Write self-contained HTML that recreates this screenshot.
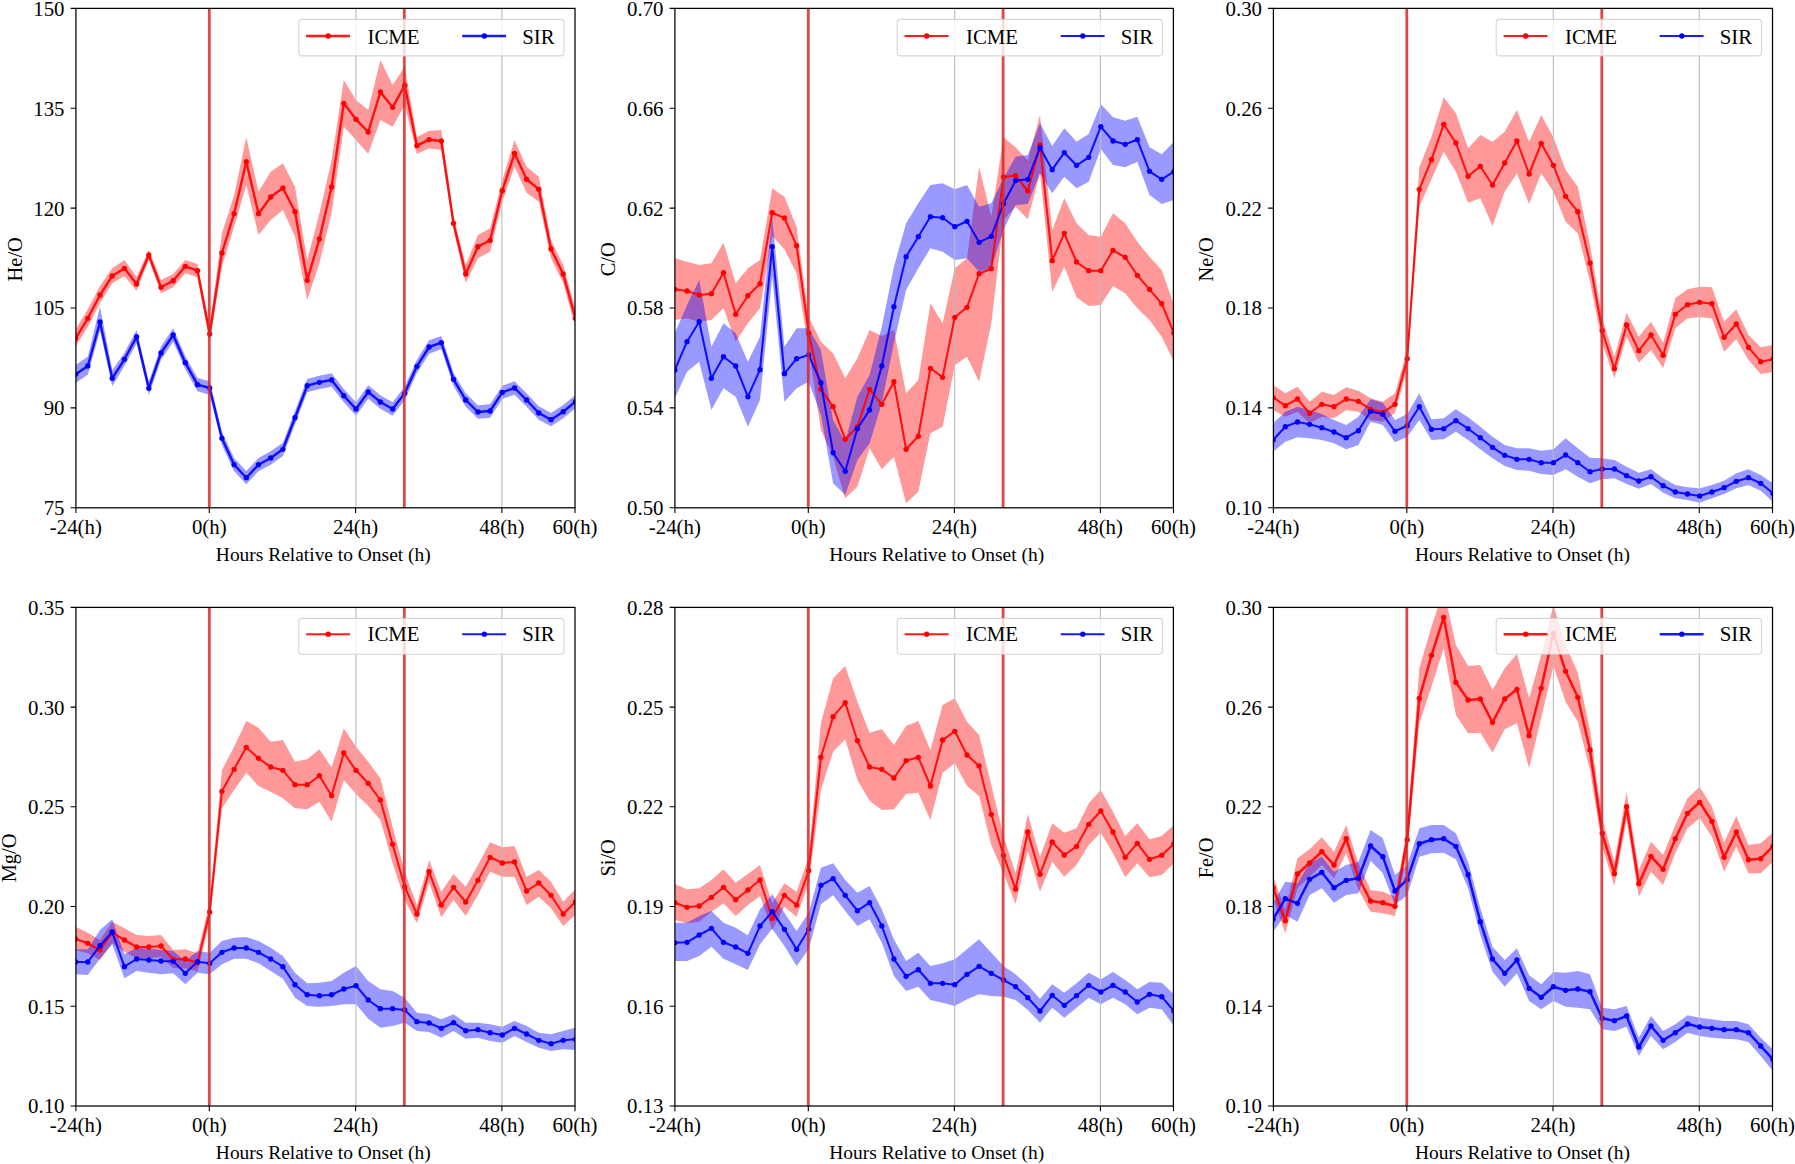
<!DOCTYPE html>
<html><head><meta charset="utf-8"><title>Abundance ratios</title>
<style>html,body{margin:0;padding:0;background:#fff}svg{display:block}text{font-family:"Liberation Serif","Times New Roman",serif;font-size:19.44px;fill:#000}.t{font-size:20.83px}.y{font-size:20.4px}</style></head>
<body>
<svg width="1795" height="1164" viewBox="0 0 1795 1164">
<rect width="1795" height="1164" fill="#fff"/>
<g>
<clipPath id="c1"><rect x="75.9" y="8.4" width="499.1" height="499.4"/></clipPath>
<g clip-path="url(#c1)">
<polygon fill="#ff0000" fill-opacity="0.4" points="75.6,329.3 87.8,309.3 100,286 112.2,268.3 124.4,260 136.6,276.7 148.8,250 161,280 173.2,274 185.3,260 197.5,264 209.7,326.7 221.9,233.3 234.1,195 246.3,137.3 258.5,191.7 270.7,171.7 282.9,163.3 295,186.7 307.2,260 319.4,213.3 331.6,160 343.8,80 356,100 368.2,110 380.4,60 392.6,85 404.7,66.7 416.9,137.3 429.1,130.7 441.3,130 453.5,216.7 465.7,265 477.9,235 490.1,228.3 502.3,180 514.5,140 526.6,166.7 538.8,176.7 551,240 563.2,265 575.4,308.3 575.4,326.7 563.2,283.3 551,258.3 538.8,201.7 526.6,192.7 514.5,166.7 502.3,201.7 490.1,251.7 477.9,258.3 465.7,282.7 453.5,230 441.3,150 429.1,148.3 416.9,154 404.7,105 392.6,126.7 380.4,120 368.2,154 356,140 343.8,126.7 331.6,213.3 319.4,263.3 307.2,300 295,236.7 282.9,210 270.7,220 258.5,235 246.3,185 234.1,226.7 221.9,266.7 209.7,341.7 197.5,277.3 185.3,273.3 173.2,287.3 161,293.3 148.8,260 136.6,290.7 124.4,276 112.2,283.3 100,303.3 87.8,326.7 75.6,346.7"/>
<polygon fill="#0000ff" fill-opacity="0.4" points="75.6,365 87.8,356.7 100,306.7 112.2,370.3 124.4,352.7 136.6,330 148.8,381.7 161,346.3 173.2,328.3 185.3,356 197.5,378 209.7,381.3 221.9,431.7 234.1,458 246.3,471 258.5,458 270.7,451.3 282.9,442.7 295,411 307.2,379 319.4,375.7 331.6,373.3 343.8,389 356,402.3 368.2,385.3 380.4,395.3 392.6,402.3 404.7,386.7 416.9,359.7 429.1,340.3 441.3,336 453.5,372.7 465.7,393.3 477.9,405.3 490.1,404.3 502.3,385.7 514.5,381.3 526.6,393.3 538.8,406.3 551,413 563.2,405 575.4,395 575.4,408.3 563.2,418.3 551,426.3 538.8,419.7 526.6,406.7 514.5,394.7 502.3,399 490.1,417.7 477.9,418.7 465.7,406.7 453.5,386 441.3,349.3 429.1,353.7 416.9,373 404.7,400 392.6,415.7 380.4,408.7 368.2,398.7 356,415.7 343.8,402.3 331.6,386.7 319.4,389 307.2,392.3 295,424.3 282.9,456 270.7,464.7 258.5,471.3 246.3,484.3 234.1,471.3 221.9,445 209.7,394.7 197.5,391.3 185.3,369.3 173.2,341.7 161,359.7 148.8,395 136.6,343.3 124.4,366 112.2,386.3 100,330.7 87.8,374.7 75.6,383"/>
<line x1="355.9" x2="355.9" y1="8.4" y2="507.8" stroke="#bbbbbb" stroke-width="1.1"/>
<line x1="501.9" x2="501.9" y1="8.4" y2="507.8" stroke="#bbbbbb" stroke-width="1.1"/>
<polyline fill="none" stroke="#ff0000" stroke-opacity="0.9" stroke-width="2.4" stroke-linejoin="round" points="75.6,338.3 87.8,318.3 100,295 112.2,276 124.4,268.3 136.6,284 148.8,255 161,287.3 173.2,280.7 185.3,266.3 197.5,270.7 209.7,334 221.9,253 234.1,213.7 246.3,161.7 258.5,213.7 270.7,197 282.9,188 295,211.7 307.2,280.3 319.4,239 331.6,187 343.8,103.3 356,119.3 368.2,132 380.4,92 392.6,107.3 404.7,85.3 416.9,145.7 429.1,139.7 441.3,141 453.5,223.3 465.7,274 477.9,246.7 490.1,240.3 502.3,190.7 514.5,153.3 526.6,179.3 538.8,189.3 551,249 563.2,274 575.4,318.3"/>
<g fill="#ff0000"><circle cx="75.6" cy="338.3" r="2.65"/><circle cx="87.8" cy="318.3" r="2.65"/><circle cx="100" cy="295" r="2.65"/><circle cx="112.2" cy="276" r="2.65"/><circle cx="124.4" cy="268.3" r="2.65"/><circle cx="136.6" cy="284" r="2.65"/><circle cx="148.8" cy="255" r="2.65"/><circle cx="161" cy="287.3" r="2.65"/><circle cx="173.2" cy="280.7" r="2.65"/><circle cx="185.3" cy="266.3" r="2.65"/><circle cx="197.5" cy="270.7" r="2.65"/><circle cx="209.7" cy="334" r="2.65"/><circle cx="221.9" cy="253" r="2.65"/><circle cx="234.1" cy="213.7" r="2.65"/><circle cx="246.3" cy="161.7" r="2.65"/><circle cx="258.5" cy="213.7" r="2.65"/><circle cx="270.7" cy="197" r="2.65"/><circle cx="282.9" cy="188" r="2.65"/><circle cx="295" cy="211.7" r="2.65"/><circle cx="307.2" cy="280.3" r="2.65"/><circle cx="319.4" cy="239" r="2.65"/><circle cx="331.6" cy="187" r="2.65"/><circle cx="343.8" cy="103.3" r="2.65"/><circle cx="356" cy="119.3" r="2.65"/><circle cx="368.2" cy="132" r="2.65"/><circle cx="380.4" cy="92" r="2.65"/><circle cx="392.6" cy="107.3" r="2.65"/><circle cx="404.7" cy="85.3" r="2.65"/><circle cx="416.9" cy="145.7" r="2.65"/><circle cx="429.1" cy="139.7" r="2.65"/><circle cx="441.3" cy="141" r="2.65"/><circle cx="453.5" cy="223.3" r="2.65"/><circle cx="465.7" cy="274" r="2.65"/><circle cx="477.9" cy="246.7" r="2.65"/><circle cx="490.1" cy="240.3" r="2.65"/><circle cx="502.3" cy="190.7" r="2.65"/><circle cx="514.5" cy="153.3" r="2.65"/><circle cx="526.6" cy="179.3" r="2.65"/><circle cx="538.8" cy="189.3" r="2.65"/><circle cx="551" cy="249" r="2.65"/><circle cx="563.2" cy="274" r="2.65"/><circle cx="575.4" cy="318.3" r="2.65"/></g>
<polyline fill="none" stroke="#0000ff" stroke-opacity="0.9" stroke-width="2.4" stroke-linejoin="round" points="75.6,374.3 87.8,366 100,322 112.2,378.3 124.4,359.3 136.6,336.7 148.8,388.3 161,353 173.2,335 185.3,362.7 197.5,384.7 209.7,388 221.9,438.3 234.1,464.7 246.3,477.7 258.5,464.7 270.7,458 282.9,449.3 295,417.7 307.2,385.7 319.4,382.3 331.6,380 343.8,395.7 356,409 368.2,392 380.4,402 392.6,409 404.7,393.3 416.9,366.3 429.1,347 441.3,342.7 453.5,379.3 465.7,400 477.9,412 490.1,411 502.3,392.3 514.5,388 526.6,400 538.8,413 551,419.7 563.2,411.7 575.4,401.7"/>
<g fill="#0000ff"><circle cx="75.6" cy="374.3" r="2.65"/><circle cx="87.8" cy="366" r="2.65"/><circle cx="100" cy="322" r="2.65"/><circle cx="112.2" cy="378.3" r="2.65"/><circle cx="124.4" cy="359.3" r="2.65"/><circle cx="136.6" cy="336.7" r="2.65"/><circle cx="148.8" cy="388.3" r="2.65"/><circle cx="161" cy="353" r="2.65"/><circle cx="173.2" cy="335" r="2.65"/><circle cx="185.3" cy="362.7" r="2.65"/><circle cx="197.5" cy="384.7" r="2.65"/><circle cx="209.7" cy="388" r="2.65"/><circle cx="221.9" cy="438.3" r="2.65"/><circle cx="234.1" cy="464.7" r="2.65"/><circle cx="246.3" cy="477.7" r="2.65"/><circle cx="258.5" cy="464.7" r="2.65"/><circle cx="270.7" cy="458" r="2.65"/><circle cx="282.9" cy="449.3" r="2.65"/><circle cx="295" cy="417.7" r="2.65"/><circle cx="307.2" cy="385.7" r="2.65"/><circle cx="319.4" cy="382.3" r="2.65"/><circle cx="331.6" cy="380" r="2.65"/><circle cx="343.8" cy="395.7" r="2.65"/><circle cx="356" cy="409" r="2.65"/><circle cx="368.2" cy="392" r="2.65"/><circle cx="380.4" cy="402" r="2.65"/><circle cx="392.6" cy="409" r="2.65"/><circle cx="404.7" cy="393.3" r="2.65"/><circle cx="416.9" cy="366.3" r="2.65"/><circle cx="429.1" cy="347" r="2.65"/><circle cx="441.3" cy="342.7" r="2.65"/><circle cx="453.5" cy="379.3" r="2.65"/><circle cx="465.7" cy="400" r="2.65"/><circle cx="477.9" cy="412" r="2.65"/><circle cx="490.1" cy="411" r="2.65"/><circle cx="502.3" cy="392.3" r="2.65"/><circle cx="514.5" cy="388" r="2.65"/><circle cx="526.6" cy="400" r="2.65"/><circle cx="538.8" cy="413" r="2.65"/><circle cx="551" cy="419.7" r="2.65"/><circle cx="563.2" cy="411.7" r="2.65"/><circle cx="575.4" cy="401.7" r="2.65"/></g>
<line x1="209.3" x2="209.3" y1="8.4" y2="507.8" stroke="#d62728" stroke-opacity="0.85" stroke-width="2.8"/>
<line x1="404.3" x2="404.3" y1="8.4" y2="507.8" stroke="#d62728" stroke-opacity="0.85" stroke-width="2.8"/>
</g>
<rect x="75.9" y="8.4" width="499.1" height="499.4" fill="none" stroke="#000" stroke-width="1.25"/>
<path d="M75.9 8.4h-5.3M75.9 108.3h-5.3M75.9 208.1h-5.3M75.9 308h-5.3M75.9 407.9h-5.3M75.9 507.8h-5.3M75.9 507.8v5.3M209.3 507.8v5.3M355.6 507.8v5.3M501.9 507.8v5.3M575 507.8v5.3" stroke="#000" stroke-width="1.1" fill="none"/>
<text class="t" x="64.5" y="15.8" text-anchor="end">150</text>
<text class="t" x="64.5" y="115.7" text-anchor="end">135</text>
<text class="t" x="64.5" y="215.5" text-anchor="end">120</text>
<text class="t" x="64.5" y="315.4" text-anchor="end">105</text>
<text class="t" x="64.5" y="415.3" text-anchor="end">90</text>
<text class="t" x="64.5" y="515.2" text-anchor="end">75</text>
<text class="t" x="75.9" y="533.6" text-anchor="middle">-24(h)</text>
<text class="t" x="209.3" y="533.6" text-anchor="middle">0(h)</text>
<text class="t" x="355.6" y="533.6" text-anchor="middle">24(h)</text>
<text class="t" x="501.9" y="533.6" text-anchor="middle">48(h)</text>
<text class="t" x="575" y="533.6" text-anchor="middle">60(h)</text>
<text x="323.3" y="560.8" text-anchor="middle">Hours Relative to Onset (h)</text>
<text class="y" transform="translate(21.5 259.3) rotate(-90)" text-anchor="middle">He/O</text>
<rect x="298.7" y="19.4" width="265.3" height="36.5" rx="3.5" ry="3.5" fill="#fff" fill-opacity="0.8" stroke="#ccc" stroke-opacity="0.8" stroke-width="1.1"/>
<line x1="306.1" x2="350" y1="36" y2="36" stroke="#ff0000" stroke-opacity="0.9" stroke-width="2.4"/><circle cx="328.2" cy="36" r="2.65" fill="#ff0000"/>
<text class="t" x="367.5" y="43.5">ICME</text>
<line x1="462.2" x2="506.1" y1="36" y2="36" stroke="#0000ff" stroke-opacity="0.9" stroke-width="2.4"/><circle cx="484.3" cy="36" r="2.65" fill="#0000ff"/>
<text class="t" x="522.2" y="43.5">SIR</text>
</g>
<g>
<clipPath id="c2"><rect x="674.9" y="8.4" width="498.5" height="499.4"/></clipPath>
<g clip-path="url(#c2)">
<polygon fill="#ff0000" fill-opacity="0.4" points="674.8,258.3 687,261.7 699.2,265 711.4,263.3 723.5,242.7 735.7,283.3 747.9,268.3 760,260 772.2,188.3 784.4,196.7 796.6,226.7 808.7,316.7 820.9,341.7 833.1,353.3 845.2,378.3 857.4,358.3 869.6,330 881.8,336 893.9,330 906.1,393.3 918.3,380 930.4,303.3 942.6,323.3 954.8,268.3 967,258.3 979.1,166.7 991.3,216.7 1003.5,137.3 1015.6,147.3 1027.8,160 1040,115 1052.2,230 1064.3,198.3 1076.5,223.3 1088.7,235 1100.8,236.7 1113,213.3 1125.2,223.3 1137.3,241.7 1149.5,256.7 1161.7,270 1173.9,305 1173.9,361.7 1161.7,336.7 1149.5,320 1137.3,308.3 1125.2,293.3 1113,286 1100.8,305 1088.7,306 1076.5,297.3 1064.3,266.7 1052.2,291.7 1040,173.3 1027.8,219.3 1015.6,206.7 1003.5,220 991.3,323.3 979.1,381.7 967,356.7 954.8,365 942.6,426.7 930.4,433.3 918.3,491.7 906.1,503.3 893.9,456.7 881.8,469.3 869.6,448.3 857.4,486.7 845.2,498.3 833.1,456.7 820.9,430 808.7,350 796.6,273.3 784.4,249.3 772.2,236 760,308.3 747.9,323.3 735.7,341.7 723.5,308.3 711.4,320 699.2,321.7 687,318.3 674.8,320"/>
<polygon fill="#0000ff" fill-opacity="0.4" points="674.8,333.3 687,305 699.2,280 711.4,346.7 723.5,323.3 735.7,333.3 747.9,361.7 760,336.7 772.2,216.7 784.4,346.7 796.6,328.3 808.7,328.3 820.9,350 833.1,420 845.2,441.7 857.4,396.7 869.6,375 881.8,326.7 893.9,266.7 906.1,223.3 918.3,203.3 930.4,185 942.6,183.3 954.8,189.3 967,185 979.1,206.7 991.3,203.3 1003.5,178.3 1015.6,156.7 1027.8,155 1040,123.3 1052.2,146 1064.3,128.3 1076.5,141.7 1088.7,134 1100.8,104 1113,117.3 1125.2,120.7 1137.3,116.7 1149.5,147.3 1161.7,154.3 1173.9,141.7 1173.9,200 1161.7,204 1149.5,195 1137.3,161.7 1125.2,167.3 1113,165 1100.8,149.3 1088.7,181.7 1076.5,188.3 1064.3,176.7 1052.2,193.3 1040,173.3 1027.8,204 1015.6,205 1003.5,230 991.3,268.3 979.1,271.7 967,258.3 954.8,260 942.6,251.7 930.4,248.3 918.3,268.3 906.1,290 893.9,343.3 881.8,403.3 869.6,443.3 857.4,460 845.2,495 833.1,483.3 820.9,415 808.7,381.7 796.6,388.3 784.4,401.7 772.2,276.7 760,400 747.9,426.7 735.7,396.7 723.5,388.3 711.4,410 699.2,361.7 687,371.7 674.8,398.3"/>
<line x1="954.7" x2="954.7" y1="8.4" y2="507.8" stroke="#bbbbbb" stroke-width="1.1"/>
<line x1="1100.4" x2="1100.4" y1="8.4" y2="507.8" stroke="#bbbbbb" stroke-width="1.1"/>
<polyline fill="none" stroke="#ff0000" stroke-opacity="0.9" stroke-width="2.05" stroke-linejoin="round" points="674.8,289.3 687,291 699.2,295 711.4,293.7 723.5,272.7 735.7,314.3 747.9,295.7 760,283.7 772.2,212.7 784.4,218 796.6,245.7 808.7,333 820.9,389.3 833.1,406.7 845.2,439.3 857.4,426.7 869.6,389.3 881.8,404.3 893.9,381.7 906.1,449.3 918.3,436.3 930.4,368.3 942.6,377.3 954.8,317.3 967,307.3 979.1,273.7 991.3,268.7 1003.5,177 1015.6,175.7 1027.8,191 1040,145 1052.2,260.7 1064.3,233.3 1076.5,262 1088.7,270.7 1100.8,270.7 1113,250.3 1125.2,257.3 1137.3,275.3 1149.5,289.3 1161.7,303.7 1173.9,333"/>
<g fill="#ff0000"><circle cx="674.8" cy="289.3" r="2.65"/><circle cx="687" cy="291" r="2.65"/><circle cx="699.2" cy="295" r="2.65"/><circle cx="711.4" cy="293.7" r="2.65"/><circle cx="723.5" cy="272.7" r="2.65"/><circle cx="735.7" cy="314.3" r="2.65"/><circle cx="747.9" cy="295.7" r="2.65"/><circle cx="760" cy="283.7" r="2.65"/><circle cx="772.2" cy="212.7" r="2.65"/><circle cx="784.4" cy="218" r="2.65"/><circle cx="796.6" cy="245.7" r="2.65"/><circle cx="808.7" cy="333" r="2.65"/><circle cx="820.9" cy="389.3" r="2.65"/><circle cx="833.1" cy="406.7" r="2.65"/><circle cx="845.2" cy="439.3" r="2.65"/><circle cx="857.4" cy="426.7" r="2.65"/><circle cx="869.6" cy="389.3" r="2.65"/><circle cx="881.8" cy="404.3" r="2.65"/><circle cx="893.9" cy="381.7" r="2.65"/><circle cx="906.1" cy="449.3" r="2.65"/><circle cx="918.3" cy="436.3" r="2.65"/><circle cx="930.4" cy="368.3" r="2.65"/><circle cx="942.6" cy="377.3" r="2.65"/><circle cx="954.8" cy="317.3" r="2.65"/><circle cx="967" cy="307.3" r="2.65"/><circle cx="979.1" cy="273.7" r="2.65"/><circle cx="991.3" cy="268.7" r="2.65"/><circle cx="1003.5" cy="177" r="2.65"/><circle cx="1015.6" cy="175.7" r="2.65"/><circle cx="1027.8" cy="191" r="2.65"/><circle cx="1040" cy="145" r="2.65"/><circle cx="1052.2" cy="260.7" r="2.65"/><circle cx="1064.3" cy="233.3" r="2.65"/><circle cx="1076.5" cy="262" r="2.65"/><circle cx="1088.7" cy="270.7" r="2.65"/><circle cx="1100.8" cy="270.7" r="2.65"/><circle cx="1113" cy="250.3" r="2.65"/><circle cx="1125.2" cy="257.3" r="2.65"/><circle cx="1137.3" cy="275.3" r="2.65"/><circle cx="1149.5" cy="289.3" r="2.65"/><circle cx="1161.7" cy="303.7" r="2.65"/><circle cx="1173.9" cy="333" r="2.65"/></g>
<polyline fill="none" stroke="#0000ff" stroke-opacity="0.9" stroke-width="2.05" stroke-linejoin="round" points="674.8,370 687,341.7 699.2,321.7 711.4,378.3 723.5,356.7 735.7,366 747.9,396.7 760,369.7 772.2,246.7 784.4,373.7 796.6,358.7 808.7,355 820.9,382.7 833.1,452.7 845.2,471.3 857.4,428.7 869.6,410 881.8,366 893.9,306.7 906.1,256.7 918.3,236.7 930.4,216.7 942.6,217.7 954.8,226.7 967,221.3 979.1,242.3 991.3,236.3 1003.5,203.7 1015.6,180.7 1027.8,179.3 1040,147.7 1052.2,169.7 1064.3,152.7 1076.5,165.3 1088.7,157.3 1100.8,126.7 1113,141 1125.2,144.3 1137.3,139.7 1149.5,171.3 1161.7,179.3 1173.9,171.7"/>
<g fill="#0000ff"><circle cx="674.8" cy="370" r="2.65"/><circle cx="687" cy="341.7" r="2.65"/><circle cx="699.2" cy="321.7" r="2.65"/><circle cx="711.4" cy="378.3" r="2.65"/><circle cx="723.5" cy="356.7" r="2.65"/><circle cx="735.7" cy="366" r="2.65"/><circle cx="747.9" cy="396.7" r="2.65"/><circle cx="760" cy="369.7" r="2.65"/><circle cx="772.2" cy="246.7" r="2.65"/><circle cx="784.4" cy="373.7" r="2.65"/><circle cx="796.6" cy="358.7" r="2.65"/><circle cx="808.7" cy="355" r="2.65"/><circle cx="820.9" cy="382.7" r="2.65"/><circle cx="833.1" cy="452.7" r="2.65"/><circle cx="845.2" cy="471.3" r="2.65"/><circle cx="857.4" cy="428.7" r="2.65"/><circle cx="869.6" cy="410" r="2.65"/><circle cx="881.8" cy="366" r="2.65"/><circle cx="893.9" cy="306.7" r="2.65"/><circle cx="906.1" cy="256.7" r="2.65"/><circle cx="918.3" cy="236.7" r="2.65"/><circle cx="930.4" cy="216.7" r="2.65"/><circle cx="942.6" cy="217.7" r="2.65"/><circle cx="954.8" cy="226.7" r="2.65"/><circle cx="967" cy="221.3" r="2.65"/><circle cx="979.1" cy="242.3" r="2.65"/><circle cx="991.3" cy="236.3" r="2.65"/><circle cx="1003.5" cy="203.7" r="2.65"/><circle cx="1015.6" cy="180.7" r="2.65"/><circle cx="1027.8" cy="179.3" r="2.65"/><circle cx="1040" cy="147.7" r="2.65"/><circle cx="1052.2" cy="169.7" r="2.65"/><circle cx="1064.3" cy="152.7" r="2.65"/><circle cx="1076.5" cy="165.3" r="2.65"/><circle cx="1088.7" cy="157.3" r="2.65"/><circle cx="1100.8" cy="126.7" r="2.65"/><circle cx="1113" cy="141" r="2.65"/><circle cx="1125.2" cy="144.3" r="2.65"/><circle cx="1137.3" cy="139.7" r="2.65"/><circle cx="1149.5" cy="171.3" r="2.65"/><circle cx="1161.7" cy="179.3" r="2.65"/><circle cx="1173.9" cy="171.7" r="2.65"/></g>
<line x1="808.3" x2="808.3" y1="8.4" y2="507.8" stroke="#d62728" stroke-opacity="0.85" stroke-width="2.8"/>
<line x1="1003.1" x2="1003.1" y1="8.4" y2="507.8" stroke="#d62728" stroke-opacity="0.85" stroke-width="2.8"/>
</g>
<rect x="674.9" y="8.4" width="498.5" height="499.4" fill="none" stroke="#000" stroke-width="1.25"/>
<path d="M674.9 8.4h-5.3M674.9 108.3h-5.3M674.9 208.1h-5.3M674.9 308h-5.3M674.9 407.9h-5.3M674.9 507.8h-5.3M674.9 507.8v5.3M808.3 507.8v5.3M954.4 507.8v5.3M1100.4 507.8v5.3M1173.5 507.8v5.3" stroke="#000" stroke-width="1.1" fill="none"/>
<text class="t" x="663.5" y="15.8" text-anchor="end">0.70</text>
<text class="t" x="663.5" y="115.7" text-anchor="end">0.66</text>
<text class="t" x="663.5" y="215.5" text-anchor="end">0.62</text>
<text class="t" x="663.5" y="315.4" text-anchor="end">0.58</text>
<text class="t" x="663.5" y="415.3" text-anchor="end">0.54</text>
<text class="t" x="663.5" y="515.2" text-anchor="end">0.50</text>
<text class="t" x="674.9" y="533.6" text-anchor="middle">-24(h)</text>
<text class="t" x="808.3" y="533.6" text-anchor="middle">0(h)</text>
<text class="t" x="954.4" y="533.6" text-anchor="middle">24(h)</text>
<text class="t" x="1100.4" y="533.6" text-anchor="middle">48(h)</text>
<text class="t" x="1173.5" y="533.6" text-anchor="middle">60(h)</text>
<text x="936.7" y="560.8" text-anchor="middle">Hours Relative to Onset (h)</text>
<text class="y" transform="translate(614.5 259.3) rotate(-90)" text-anchor="middle">C/O</text>
<rect x="897.2" y="19.4" width="265.3" height="36.5" rx="3.5" ry="3.5" fill="#fff" fill-opacity="0.8" stroke="#ccc" stroke-opacity="0.8" stroke-width="1.1"/>
<line x1="904.6" x2="948.5" y1="36" y2="36" stroke="#ff0000" stroke-opacity="0.9" stroke-width="2.05"/><circle cx="926.7" cy="36" r="2.65" fill="#ff0000"/>
<text class="t" x="966" y="43.5">ICME</text>
<line x1="1060.7" x2="1104.6" y1="36" y2="36" stroke="#0000ff" stroke-opacity="0.9" stroke-width="2.05"/><circle cx="1082.8" cy="36" r="2.65" fill="#0000ff"/>
<text class="t" x="1120.7" y="43.5">SIR</text>
</g>
<g>
<clipPath id="c3"><rect x="1273.4" y="8.4" width="499.1" height="499.4"/></clipPath>
<g clip-path="url(#c3)">
<polygon fill="#ff0000" fill-opacity="0.4" points="1273.1,385 1285.3,393.3 1297.5,386.7 1309.6,401.7 1321.8,391.7 1334,395 1346.2,387.3 1358.4,390.7 1370.6,398.3 1382.8,401.7 1395,393.3 1407.2,350 1419.3,167.3 1431.5,136.7 1443.7,97.3 1455.9,113.3 1468.1,148.3 1480.3,135 1492.5,141.7 1504.7,131.7 1516.9,110 1529.1,141.7 1541.2,115 1553.4,137.3 1565.6,170 1577.8,186.7 1590,245 1602.2,318.3 1614.4,356.7 1626.6,312.7 1638.8,336.7 1651,321.7 1663.1,342.7 1675.3,298.3 1687.5,289.3 1699.7,286.7 1711.9,287.3 1724.1,321.7 1736.3,309.3 1748.5,335 1760.7,347.3 1772.9,345 1772.9,371.7 1760.7,374 1748.5,360 1736.3,339.3 1724.1,351.7 1711.9,318.3 1699.7,317.3 1687.5,318.3 1675.3,328.3 1663.1,368.3 1651,350 1638.8,362.7 1626.6,336.7 1614.4,378.3 1602.2,343.3 1590,281.7 1577.8,233.3 1565.6,221.7 1553.4,191.7 1541.2,173.3 1529.1,204 1516.9,173.3 1504.7,191.7 1492.5,226 1480.3,198.3 1468.1,202.7 1455.9,171.7 1443.7,151.7 1431.5,179.3 1419.3,206.7 1407.2,368.3 1395,413.3 1382.8,421.7 1370.6,420 1358.4,411.7 1346.2,410 1334,418.3 1321.8,416.7 1309.6,423.3 1297.5,411.7 1285.3,416.7 1273.1,410"/>
<polygon fill="#0000ff" fill-opacity="0.4" points="1273.1,423.3 1285.3,411.7 1297.5,406.7 1309.6,410 1321.8,414 1334,420 1346.2,425 1358.4,416.7 1370.6,399.3 1382.8,402.7 1395,420 1407.2,414 1419.3,393.3 1431.5,419.3 1443.7,418.3 1455.9,409.3 1468.1,417.3 1480.3,426.7 1492.5,436.7 1504.7,445 1516.9,448.3 1529.1,448.3 1541.2,450.7 1553.4,449.3 1565.6,438.3 1577.8,448.3 1590,457.7 1602.2,458.3 1614.4,460 1626.6,466.7 1638.8,472.7 1651,469.3 1663.1,478.3 1675.3,485 1687.5,487.3 1699.7,488.3 1711.9,485 1724.1,480.7 1736.3,473.3 1748.5,469.3 1760.7,475 1772.9,483.3 1772.9,501.7 1760.7,490.7 1748.5,485 1736.3,488.3 1724.1,494 1711.9,498.3 1699.7,502.7 1687.5,500 1675.3,498.3 1663.1,492.7 1651,484 1638.8,488.7 1626.6,484 1614.4,478.3 1602.2,479.3 1590,483.3 1577.8,476.7 1565.6,469.3 1553.4,475 1541.2,474 1529.1,470.7 1516.9,470 1504.7,466 1492.5,458.3 1480.3,449.3 1468.1,440 1455.9,431.7 1443.7,439.3 1431.5,440 1419.3,420 1407.2,436.7 1395,442.3 1382.8,425 1370.6,421.7 1358.4,445 1346.2,449.3 1334,443.3 1321.8,440 1309.6,438.3 1297.5,437.3 1285.3,441.7 1273.1,451.7"/>
<line x1="1553.3" x2="1553.3" y1="8.4" y2="507.8" stroke="#bbbbbb" stroke-width="1.1"/>
<line x1="1699.3" x2="1699.3" y1="8.4" y2="507.8" stroke="#bbbbbb" stroke-width="1.1"/>
<polyline fill="none" stroke="#ff0000" stroke-opacity="0.9" stroke-width="2.05" stroke-linejoin="round" points="1273.1,397.3 1285.3,405.7 1297.5,399 1309.6,413.3 1321.8,404.3 1334,406.7 1346.2,399 1358.4,401.3 1370.6,409.3 1382.8,412.3 1395,404.3 1407.2,358.7 1419.3,189.3 1431.5,159.7 1443.7,124.3 1455.9,143 1468.1,176.3 1480.3,166.3 1492.5,185 1504.7,163 1516.9,141 1529.1,174 1541.2,143.3 1553.4,165.3 1565.6,196.3 1577.8,211.7 1590,263 1602.2,330.7 1614.4,368.7 1626.6,325 1638.8,350.7 1651,335 1663.1,355.3 1675.3,314.3 1687.5,304.7 1699.7,302.3 1711.9,303.7 1724.1,337.3 1736.3,324 1748.5,347.3 1760.7,361.7 1772.9,359.3"/>
<g fill="#ff0000"><circle cx="1273.1" cy="397.3" r="2.65"/><circle cx="1285.3" cy="405.7" r="2.65"/><circle cx="1297.5" cy="399" r="2.65"/><circle cx="1309.6" cy="413.3" r="2.65"/><circle cx="1321.8" cy="404.3" r="2.65"/><circle cx="1334" cy="406.7" r="2.65"/><circle cx="1346.2" cy="399" r="2.65"/><circle cx="1358.4" cy="401.3" r="2.65"/><circle cx="1370.6" cy="409.3" r="2.65"/><circle cx="1382.8" cy="412.3" r="2.65"/><circle cx="1395" cy="404.3" r="2.65"/><circle cx="1407.2" cy="358.7" r="2.65"/><circle cx="1419.3" cy="189.3" r="2.65"/><circle cx="1431.5" cy="159.7" r="2.65"/><circle cx="1443.7" cy="124.3" r="2.65"/><circle cx="1455.9" cy="143" r="2.65"/><circle cx="1468.1" cy="176.3" r="2.65"/><circle cx="1480.3" cy="166.3" r="2.65"/><circle cx="1492.5" cy="185" r="2.65"/><circle cx="1504.7" cy="163" r="2.65"/><circle cx="1516.9" cy="141" r="2.65"/><circle cx="1529.1" cy="174" r="2.65"/><circle cx="1541.2" cy="143.3" r="2.65"/><circle cx="1553.4" cy="165.3" r="2.65"/><circle cx="1565.6" cy="196.3" r="2.65"/><circle cx="1577.8" cy="211.7" r="2.65"/><circle cx="1590" cy="263" r="2.65"/><circle cx="1602.2" cy="330.7" r="2.65"/><circle cx="1614.4" cy="368.7" r="2.65"/><circle cx="1626.6" cy="325" r="2.65"/><circle cx="1638.8" cy="350.7" r="2.65"/><circle cx="1651" cy="335" r="2.65"/><circle cx="1663.1" cy="355.3" r="2.65"/><circle cx="1675.3" cy="314.3" r="2.65"/><circle cx="1687.5" cy="304.7" r="2.65"/><circle cx="1699.7" cy="302.3" r="2.65"/><circle cx="1711.9" cy="303.7" r="2.65"/><circle cx="1724.1" cy="337.3" r="2.65"/><circle cx="1736.3" cy="324" r="2.65"/><circle cx="1748.5" cy="347.3" r="2.65"/><circle cx="1760.7" cy="361.7" r="2.65"/><circle cx="1772.9" cy="359.3" r="2.65"/></g>
<polyline fill="none" stroke="#0000ff" stroke-opacity="0.9" stroke-width="2.05" stroke-linejoin="round" points="1273.1,440 1285.3,426.7 1297.5,422 1309.6,424.3 1321.8,427.7 1334,432 1346.2,437.7 1358.4,430.7 1370.6,411.3 1382.8,414.3 1395,431.3 1407.2,425.7 1419.3,406.7 1431.5,429.3 1443.7,428.7 1455.9,420.7 1468.1,428.7 1480.3,437.7 1492.5,447.3 1504.7,455.3 1516.9,459.3 1529.1,459.3 1541.2,462.7 1553.4,462.7 1565.6,455 1577.8,462.7 1590,471.7 1602.2,469 1614.4,469 1626.6,475.7 1638.8,481 1651,476.7 1663.1,485.7 1675.3,492 1687.5,494 1699.7,496 1711.9,492 1724.1,487.7 1736.3,481.3 1748.5,477.7 1760.7,483.3 1772.9,493.3"/>
<g fill="#0000ff"><circle cx="1273.1" cy="440" r="2.65"/><circle cx="1285.3" cy="426.7" r="2.65"/><circle cx="1297.5" cy="422" r="2.65"/><circle cx="1309.6" cy="424.3" r="2.65"/><circle cx="1321.8" cy="427.7" r="2.65"/><circle cx="1334" cy="432" r="2.65"/><circle cx="1346.2" cy="437.7" r="2.65"/><circle cx="1358.4" cy="430.7" r="2.65"/><circle cx="1370.6" cy="411.3" r="2.65"/><circle cx="1382.8" cy="414.3" r="2.65"/><circle cx="1395" cy="431.3" r="2.65"/><circle cx="1407.2" cy="425.7" r="2.65"/><circle cx="1419.3" cy="406.7" r="2.65"/><circle cx="1431.5" cy="429.3" r="2.65"/><circle cx="1443.7" cy="428.7" r="2.65"/><circle cx="1455.9" cy="420.7" r="2.65"/><circle cx="1468.1" cy="428.7" r="2.65"/><circle cx="1480.3" cy="437.7" r="2.65"/><circle cx="1492.5" cy="447.3" r="2.65"/><circle cx="1504.7" cy="455.3" r="2.65"/><circle cx="1516.9" cy="459.3" r="2.65"/><circle cx="1529.1" cy="459.3" r="2.65"/><circle cx="1541.2" cy="462.7" r="2.65"/><circle cx="1553.4" cy="462.7" r="2.65"/><circle cx="1565.6" cy="455" r="2.65"/><circle cx="1577.8" cy="462.7" r="2.65"/><circle cx="1590" cy="471.7" r="2.65"/><circle cx="1602.2" cy="469" r="2.65"/><circle cx="1614.4" cy="469" r="2.65"/><circle cx="1626.6" cy="475.7" r="2.65"/><circle cx="1638.8" cy="481" r="2.65"/><circle cx="1651" cy="476.7" r="2.65"/><circle cx="1663.1" cy="485.7" r="2.65"/><circle cx="1675.3" cy="492" r="2.65"/><circle cx="1687.5" cy="494" r="2.65"/><circle cx="1699.7" cy="496" r="2.65"/><circle cx="1711.9" cy="492" r="2.65"/><circle cx="1724.1" cy="487.7" r="2.65"/><circle cx="1736.3" cy="481.3" r="2.65"/><circle cx="1748.5" cy="477.7" r="2.65"/><circle cx="1760.7" cy="483.3" r="2.65"/><circle cx="1772.9" cy="493.3" r="2.65"/></g>
<line x1="1406.8" x2="1406.8" y1="8.4" y2="507.8" stroke="#d62728" stroke-opacity="0.85" stroke-width="2.8"/>
<line x1="1601.8" x2="1601.8" y1="8.4" y2="507.8" stroke="#d62728" stroke-opacity="0.85" stroke-width="2.8"/>
</g>
<rect x="1273.4" y="8.4" width="499.1" height="499.4" fill="none" stroke="#000" stroke-width="1.25"/>
<path d="M1273.4 8.4h-5.3M1273.4 108.3h-5.3M1273.4 208.1h-5.3M1273.4 308h-5.3M1273.4 407.9h-5.3M1273.4 507.8h-5.3M1273.4 507.8v5.3M1406.8 507.8v5.3M1553 507.8v5.3M1699.3 507.8v5.3M1772.5 507.8v5.3" stroke="#000" stroke-width="1.1" fill="none"/>
<text class="t" x="1262" y="15.8" text-anchor="end">0.30</text>
<text class="t" x="1262" y="115.7" text-anchor="end">0.26</text>
<text class="t" x="1262" y="215.5" text-anchor="end">0.22</text>
<text class="t" x="1262" y="315.4" text-anchor="end">0.18</text>
<text class="t" x="1262" y="415.3" text-anchor="end">0.14</text>
<text class="t" x="1262" y="515.2" text-anchor="end">0.10</text>
<text class="t" x="1273.4" y="533.6" text-anchor="middle">-24(h)</text>
<text class="t" x="1406.8" y="533.6" text-anchor="middle">0(h)</text>
<text class="t" x="1553" y="533.6" text-anchor="middle">24(h)</text>
<text class="t" x="1699.3" y="533.6" text-anchor="middle">48(h)</text>
<text class="t" x="1772.5" y="533.6" text-anchor="middle">60(h)</text>
<text x="1522.5" y="560.8" text-anchor="middle">Hours Relative to Onset (h)</text>
<text class="y" transform="translate(1212.5 259.3) rotate(-90)" text-anchor="middle">Ne/O</text>
<rect x="1496.2" y="19.4" width="265.3" height="36.5" rx="3.5" ry="3.5" fill="#fff" fill-opacity="0.8" stroke="#ccc" stroke-opacity="0.8" stroke-width="1.1"/>
<line x1="1503.6" x2="1547.5" y1="36" y2="36" stroke="#ff0000" stroke-opacity="0.9" stroke-width="2.05"/><circle cx="1525.7" cy="36" r="2.65" fill="#ff0000"/>
<text class="t" x="1565" y="43.5">ICME</text>
<line x1="1659.7" x2="1703.6" y1="36" y2="36" stroke="#0000ff" stroke-opacity="0.9" stroke-width="2.05"/><circle cx="1681.8" cy="36" r="2.65" fill="#0000ff"/>
<text class="t" x="1719.7" y="43.5">SIR</text>
</g>
<g>
<clipPath id="c4"><rect x="75.9" y="607.4" width="499.1" height="498.6"/></clipPath>
<g clip-path="url(#c4)">
<polygon fill="#ff0000" fill-opacity="0.4" points="75.6,926.7 87.8,932.7 100,940 112.2,921.7 124.4,928.3 136.6,935 148.8,936 161,935 173.2,950 185.3,949.3 197.5,953.3 209.7,901.7 221.9,770 234.1,746.7 246.3,721 258.5,727.7 270.7,741.7 282.9,740 295,761.7 307.2,759.3 319.4,749.3 331.6,767.3 343.8,728.3 356,746.7 368.2,761.7 380.4,778.3 392.6,826.7 404.7,871.7 416.9,905 429.1,860 441.3,891.7 453.5,874 465.7,886.7 477.9,865 490.1,842.3 502.3,847.3 514.5,846 526.6,876.7 538.8,870 551,881.7 563.2,901.7 575.4,889.3 575.4,915 563.2,926 551,908.3 538.8,896.7 526.6,905 514.5,876.7 502.3,876.7 490.1,871.7 477.9,895 465.7,916 453.5,900 441.3,917.3 429.1,882.7 416.9,923.3 404.7,900 392.6,863.3 380.4,820 368.2,806 356,794 343.8,780 331.6,821.7 319.4,801.7 307.2,809.3 295,808.3 282.9,798.3 270.7,791.7 258.5,786 246.3,772.7 234.1,790 221.9,808.3 209.7,921.7 197.5,971.7 185.3,968.3 173.2,968.3 161,956.7 148.8,958.3 136.6,958.3 124.4,951.7 112.2,943.3 100,960 87.8,953.3 75.6,950"/>
<polygon fill="#0000ff" fill-opacity="0.4" points="75.6,949.3 87.8,949.3 100,930 112.2,919.3 124.4,954.3 136.6,947.7 148.8,948.7 161,950 173.2,951 185.3,961 197.5,951 209.7,952.7 221.9,941 234.1,937.7 246.3,937 258.5,941 270.7,947.7 282.9,956 295,972.7 307.2,983.3 319.4,982.7 331.6,981 343.8,972.7 356,966 368.2,981 380.4,989.3 392.6,991 404.7,997.7 416.9,1012.7 429.1,1014.3 441.3,1019.3 453.5,1014.3 465.7,1022.7 477.9,1022.7 490.1,1024.3 502.3,1026.7 514.5,1021 526.6,1026 538.8,1032.7 551,1034.3 563.2,1031 575.4,1027.7 575.4,1050 563.2,1049.3 551,1051 538.8,1047.7 526.6,1042 514.5,1036 502.3,1042.7 490.1,1041 477.9,1037.7 465.7,1038.7 453.5,1031 441.3,1037.7 429.1,1032 416.9,1031 404.7,1022.7 392.6,1026 380.4,1027.7 368.2,1018.7 356,1004.3 343.8,1004.3 331.6,1006 319.4,1006.7 307.2,1006 295,997.7 282.9,978.7 270.7,971 258.5,963.3 246.3,958.7 234.1,958.7 221.9,964.3 209.7,974.3 197.5,972.7 185.3,984.3 173.2,973.3 161,974.3 148.8,972.7 136.6,971 124.4,978.3 112.2,944.3 100,958.7 87.8,975 75.6,974.3"/>
<line x1="355.9" x2="355.9" y1="607.4" y2="1106" stroke="#bbbbbb" stroke-width="1.1"/>
<line x1="501.9" x2="501.9" y1="607.4" y2="1106" stroke="#bbbbbb" stroke-width="1.1"/>
<polyline fill="none" stroke="#ff0000" stroke-opacity="0.9" stroke-width="2.05" stroke-linejoin="round" points="75.6,939 87.8,943.3 100,950 112.2,932.7 124.4,940 136.6,947 148.8,947 161,946 173.2,959.3 185.3,959 197.5,962.7 209.7,912 221.9,791.3 234.1,769.3 246.3,747.3 258.5,758.3 270.7,767 282.9,770.3 295,784.7 307.2,784.7 319.4,775.7 331.6,795.7 343.8,753 356,770.3 368.2,783.3 380.4,800 392.6,844.3 404.7,886.7 416.9,914 429.1,871.7 441.3,905 453.5,887.3 465.7,902 477.9,880.3 490.1,857.3 502.3,863 514.5,862 526.6,891 538.8,883 551,895.3 563.2,914 575.4,902"/>
<g fill="#ff0000"><circle cx="75.6" cy="939" r="2.65"/><circle cx="87.8" cy="943.3" r="2.65"/><circle cx="100" cy="950" r="2.65"/><circle cx="112.2" cy="932.7" r="2.65"/><circle cx="124.4" cy="940" r="2.65"/><circle cx="136.6" cy="947" r="2.65"/><circle cx="148.8" cy="947" r="2.65"/><circle cx="161" cy="946" r="2.65"/><circle cx="173.2" cy="959.3" r="2.65"/><circle cx="185.3" cy="959" r="2.65"/><circle cx="197.5" cy="962.7" r="2.65"/><circle cx="209.7" cy="912" r="2.65"/><circle cx="221.9" cy="791.3" r="2.65"/><circle cx="234.1" cy="769.3" r="2.65"/><circle cx="246.3" cy="747.3" r="2.65"/><circle cx="258.5" cy="758.3" r="2.65"/><circle cx="270.7" cy="767" r="2.65"/><circle cx="282.9" cy="770.3" r="2.65"/><circle cx="295" cy="784.7" r="2.65"/><circle cx="307.2" cy="784.7" r="2.65"/><circle cx="319.4" cy="775.7" r="2.65"/><circle cx="331.6" cy="795.7" r="2.65"/><circle cx="343.8" cy="753" r="2.65"/><circle cx="356" cy="770.3" r="2.65"/><circle cx="368.2" cy="783.3" r="2.65"/><circle cx="380.4" cy="800" r="2.65"/><circle cx="392.6" cy="844.3" r="2.65"/><circle cx="404.7" cy="886.7" r="2.65"/><circle cx="416.9" cy="914" r="2.65"/><circle cx="429.1" cy="871.7" r="2.65"/><circle cx="441.3" cy="905" r="2.65"/><circle cx="453.5" cy="887.3" r="2.65"/><circle cx="465.7" cy="902" r="2.65"/><circle cx="477.9" cy="880.3" r="2.65"/><circle cx="490.1" cy="857.3" r="2.65"/><circle cx="502.3" cy="863" r="2.65"/><circle cx="514.5" cy="862" r="2.65"/><circle cx="526.6" cy="891" r="2.65"/><circle cx="538.8" cy="883" r="2.65"/><circle cx="551" cy="895.3" r="2.65"/><circle cx="563.2" cy="914" r="2.65"/><circle cx="575.4" cy="902" r="2.65"/></g>
<polyline fill="none" stroke="#0000ff" stroke-opacity="0.9" stroke-width="2.05" stroke-linejoin="round" points="75.6,962 87.8,962 100,945.7 112.2,932 124.4,966.7 136.6,959 148.8,960 161,961 173.2,961.3 185.3,973.3 197.5,961.7 209.7,963.3 221.9,952.3 234.1,948 246.3,948 258.5,952.3 270.7,959 282.9,966.7 295,984.7 307.2,994.7 319.4,995.7 331.6,994.7 343.8,989 356,985.7 368.2,1000 380.4,1008.7 392.6,1008.7 404.7,1010 416.9,1021.7 429.1,1023 441.3,1028.3 453.5,1022.7 465.7,1030.7 477.9,1029.7 490.1,1032.7 502.3,1035 514.5,1028.3 526.6,1034 538.8,1040.3 551,1043.7 563.2,1040.3 575.4,1039.3"/>
<g fill="#0000ff"><circle cx="75.6" cy="962" r="2.65"/><circle cx="87.8" cy="962" r="2.65"/><circle cx="100" cy="945.7" r="2.65"/><circle cx="112.2" cy="932" r="2.65"/><circle cx="124.4" cy="966.7" r="2.65"/><circle cx="136.6" cy="959" r="2.65"/><circle cx="148.8" cy="960" r="2.65"/><circle cx="161" cy="961" r="2.65"/><circle cx="173.2" cy="961.3" r="2.65"/><circle cx="185.3" cy="973.3" r="2.65"/><circle cx="197.5" cy="961.7" r="2.65"/><circle cx="209.7" cy="963.3" r="2.65"/><circle cx="221.9" cy="952.3" r="2.65"/><circle cx="234.1" cy="948" r="2.65"/><circle cx="246.3" cy="948" r="2.65"/><circle cx="258.5" cy="952.3" r="2.65"/><circle cx="270.7" cy="959" r="2.65"/><circle cx="282.9" cy="966.7" r="2.65"/><circle cx="295" cy="984.7" r="2.65"/><circle cx="307.2" cy="994.7" r="2.65"/><circle cx="319.4" cy="995.7" r="2.65"/><circle cx="331.6" cy="994.7" r="2.65"/><circle cx="343.8" cy="989" r="2.65"/><circle cx="356" cy="985.7" r="2.65"/><circle cx="368.2" cy="1000" r="2.65"/><circle cx="380.4" cy="1008.7" r="2.65"/><circle cx="392.6" cy="1008.7" r="2.65"/><circle cx="404.7" cy="1010" r="2.65"/><circle cx="416.9" cy="1021.7" r="2.65"/><circle cx="429.1" cy="1023" r="2.65"/><circle cx="441.3" cy="1028.3" r="2.65"/><circle cx="453.5" cy="1022.7" r="2.65"/><circle cx="465.7" cy="1030.7" r="2.65"/><circle cx="477.9" cy="1029.7" r="2.65"/><circle cx="490.1" cy="1032.7" r="2.65"/><circle cx="502.3" cy="1035" r="2.65"/><circle cx="514.5" cy="1028.3" r="2.65"/><circle cx="526.6" cy="1034" r="2.65"/><circle cx="538.8" cy="1040.3" r="2.65"/><circle cx="551" cy="1043.7" r="2.65"/><circle cx="563.2" cy="1040.3" r="2.65"/><circle cx="575.4" cy="1039.3" r="2.65"/></g>
<line x1="209.3" x2="209.3" y1="607.4" y2="1106" stroke="#d62728" stroke-opacity="0.85" stroke-width="2.8"/>
<line x1="404.3" x2="404.3" y1="607.4" y2="1106" stroke="#d62728" stroke-opacity="0.85" stroke-width="2.8"/>
</g>
<rect x="75.9" y="607.4" width="499.1" height="498.6" fill="none" stroke="#000" stroke-width="1.25"/>
<path d="M75.9 607.4h-5.3M75.9 707.1h-5.3M75.9 806.8h-5.3M75.9 906.5h-5.3M75.9 1006.3h-5.3M75.9 1106h-5.3M75.9 1106v5.3M209.3 1106v5.3M355.6 1106v5.3M501.9 1106v5.3M575 1106v5.3" stroke="#000" stroke-width="1.1" fill="none"/>
<text class="t" x="64.5" y="614.8" text-anchor="end">0.35</text>
<text class="t" x="64.5" y="714.5" text-anchor="end">0.30</text>
<text class="t" x="64.5" y="814.2" text-anchor="end">0.25</text>
<text class="t" x="64.5" y="913.9" text-anchor="end">0.20</text>
<text class="t" x="64.5" y="1013.7" text-anchor="end">0.15</text>
<text class="t" x="64.5" y="1113.4" text-anchor="end">0.10</text>
<text class="t" x="75.9" y="1131.8" text-anchor="middle">-24(h)</text>
<text class="t" x="209.3" y="1131.8" text-anchor="middle">0(h)</text>
<text class="t" x="355.6" y="1131.8" text-anchor="middle">24(h)</text>
<text class="t" x="501.9" y="1131.8" text-anchor="middle">48(h)</text>
<text class="t" x="575" y="1131.8" text-anchor="middle">60(h)</text>
<text x="323.3" y="1159" text-anchor="middle">Hours Relative to Onset (h)</text>
<text class="y" transform="translate(16 857.9) rotate(-90)" text-anchor="middle">Mg/O</text>
<rect x="298.7" y="618.4" width="265.3" height="35.8" rx="3.5" ry="3.5" fill="#fff" fill-opacity="0.8" stroke="#ccc" stroke-opacity="0.8" stroke-width="1.1"/>
<line x1="306.1" x2="350" y1="634.2" y2="634.2" stroke="#ff0000" stroke-opacity="0.9" stroke-width="2.05"/><circle cx="328.2" cy="634.2" r="2.65" fill="#ff0000"/>
<text class="t" x="367.5" y="641">ICME</text>
<line x1="462.2" x2="506.1" y1="634.2" y2="634.2" stroke="#0000ff" stroke-opacity="0.9" stroke-width="2.05"/><circle cx="484.3" cy="634.2" r="2.65" fill="#0000ff"/>
<text class="t" x="522.2" y="641">SIR</text>
</g>
<g>
<clipPath id="c5"><rect x="674.9" y="607.4" width="498.5" height="498.6"/></clipPath>
<g clip-path="url(#c5)">
<polygon fill="#ff0000" fill-opacity="0.4" points="674.8,884 687,889.3 699.2,888.3 711.4,880 723.5,869.3 735.7,882.7 747.9,874 760,865 772.2,903.3 784.4,883.3 796.6,891.7 808.7,856.7 820.9,723.3 833.1,678.3 845.2,666 857.4,701.7 869.6,732.7 881.8,729.3 893.9,745 906.1,726 918.3,721 930.4,750 942.6,705 954.8,698.3 967,721.7 979.1,735 991.3,785 1003.5,836 1015.6,873.3 1027.8,814 1040,856.7 1052.2,823.3 1064.3,832.7 1076.5,828.3 1088.7,803.3 1100.8,790 1113,811.7 1125.2,836 1137.3,823.3 1149.5,839.3 1161.7,836 1173.9,825 1173.9,863.3 1161.7,875 1149.5,877.3 1137.3,863.3 1125.2,877.3 1113,853.3 1100.8,832.7 1088.7,845 1076.5,865 1064.3,876.7 1052.2,861.7 1040,891.7 1027.8,850.7 1015.6,904 1003.5,873.3 991.3,845 979.1,796 967,786 954.8,763.3 942.6,772.7 930.4,820 918.3,792.7 906.1,794 893.9,809.3 881.8,810 869.6,800.7 857.4,780 845.2,739.3 833.1,751.7 820.9,790 808.7,883.3 796.6,916.7 784.4,906.7 772.2,930 760,896 747.9,905 735.7,916 723.5,903.3 711.4,911.7 699.2,921.7 687,923.3 674.8,920"/>
<polygon fill="#0000ff" fill-opacity="0.4" points="674.8,922.7 687,922.7 699.2,916 711.4,911 723.5,922.7 735.7,927.7 747.9,935.3 760,909.3 772.2,894.3 784.4,912.7 796.6,931 808.7,912.7 820.9,867.7 833.1,863.3 845.2,880 857.4,892.7 869.6,886 881.8,909.3 893.9,939.3 906.1,961 918.3,952.7 930.4,966 942.6,963.3 954.8,959.3 967,949.3 979.1,939.3 991.3,952.7 1003.5,966 1015.6,974.3 1027.8,985.3 1040,998.7 1052.2,984.3 1064.3,992.7 1076.5,983.3 1088.7,972.7 1100.8,979.3 1113,972 1125.2,980 1137.3,989.3 1149.5,982 1161.7,982.7 1173.9,994.3 1173.9,1026 1161.7,1009.3 1149.5,1007.7 1137.3,1014.3 1125.2,1004.3 1113,997.7 1100.8,1004.3 1088.7,997.7 1076.5,1007.7 1064.3,1017.7 1052.2,1007.7 1040,1022.7 1027.8,1010 1015.6,1000 1003.5,996.7 991.3,996 979.1,994.3 967,999.3 954.8,1006 942.6,1002.7 930.4,1000 918.3,986.7 906.1,991 893.9,976 881.8,942.7 869.6,919.3 857.4,926 845.2,911 833.1,895.3 820.9,904.3 808.7,949.3 796.6,966 784.4,946 772.2,928.7 760,944.3 747.9,970 735.7,964.3 723.5,958.7 711.4,946.7 699.2,956 687,961 674.8,961"/>
<line x1="954.7" x2="954.7" y1="607.4" y2="1106" stroke="#bbbbbb" stroke-width="1.1"/>
<line x1="1100.4" x2="1100.4" y1="607.4" y2="1106" stroke="#bbbbbb" stroke-width="1.1"/>
<polyline fill="none" stroke="#ff0000" stroke-opacity="0.9" stroke-width="2.05" stroke-linejoin="round" points="674.8,902.7 687,907.3 699.2,906 711.4,897.3 723.5,887.3 735.7,899.7 747.9,890 760,880 772.2,918.3 784.4,895.3 796.6,905 808.7,870.7 820.9,757.3 833.1,716.7 845.2,702.7 857.4,740.7 869.6,767 881.8,769.3 893.9,778 906.1,760.7 918.3,757.3 930.4,786 942.6,740 954.8,731.3 967,755 979.1,766 991.3,814.3 1003.5,855.3 1015.6,889 1027.8,832 1040,874.3 1052.2,842 1064.3,855 1076.5,846.3 1088.7,824.3 1100.8,811 1113,832 1125.2,857.3 1137.3,843.3 1149.5,859.3 1161.7,855.3 1173.9,844"/>
<g fill="#ff0000"><circle cx="674.8" cy="902.7" r="2.65"/><circle cx="687" cy="907.3" r="2.65"/><circle cx="699.2" cy="906" r="2.65"/><circle cx="711.4" cy="897.3" r="2.65"/><circle cx="723.5" cy="887.3" r="2.65"/><circle cx="735.7" cy="899.7" r="2.65"/><circle cx="747.9" cy="890" r="2.65"/><circle cx="760" cy="880" r="2.65"/><circle cx="772.2" cy="918.3" r="2.65"/><circle cx="784.4" cy="895.3" r="2.65"/><circle cx="796.6" cy="905" r="2.65"/><circle cx="808.7" cy="870.7" r="2.65"/><circle cx="820.9" cy="757.3" r="2.65"/><circle cx="833.1" cy="716.7" r="2.65"/><circle cx="845.2" cy="702.7" r="2.65"/><circle cx="857.4" cy="740.7" r="2.65"/><circle cx="869.6" cy="767" r="2.65"/><circle cx="881.8" cy="769.3" r="2.65"/><circle cx="893.9" cy="778" r="2.65"/><circle cx="906.1" cy="760.7" r="2.65"/><circle cx="918.3" cy="757.3" r="2.65"/><circle cx="930.4" cy="786" r="2.65"/><circle cx="942.6" cy="740" r="2.65"/><circle cx="954.8" cy="731.3" r="2.65"/><circle cx="967" cy="755" r="2.65"/><circle cx="979.1" cy="766" r="2.65"/><circle cx="991.3" cy="814.3" r="2.65"/><circle cx="1003.5" cy="855.3" r="2.65"/><circle cx="1015.6" cy="889" r="2.65"/><circle cx="1027.8" cy="832" r="2.65"/><circle cx="1040" cy="874.3" r="2.65"/><circle cx="1052.2" cy="842" r="2.65"/><circle cx="1064.3" cy="855" r="2.65"/><circle cx="1076.5" cy="846.3" r="2.65"/><circle cx="1088.7" cy="824.3" r="2.65"/><circle cx="1100.8" cy="811" r="2.65"/><circle cx="1113" cy="832" r="2.65"/><circle cx="1125.2" cy="857.3" r="2.65"/><circle cx="1137.3" cy="843.3" r="2.65"/><circle cx="1149.5" cy="859.3" r="2.65"/><circle cx="1161.7" cy="855.3" r="2.65"/><circle cx="1173.9" cy="844" r="2.65"/></g>
<polyline fill="none" stroke="#0000ff" stroke-opacity="0.9" stroke-width="2.05" stroke-linejoin="round" points="674.8,942.7 687,942.3 699.2,935 711.4,928.3 723.5,942.3 735.7,947 747.9,953.3 760,926 772.2,911.7 784.4,929.3 796.6,949.3 808.7,929.3 820.9,885.3 833.1,878.7 845.2,895.3 857.4,910.7 869.6,902.7 881.8,926 893.9,959 906.1,976.3 918.3,969.7 930.4,983.3 942.6,983.3 954.8,984.7 967,974.3 979.1,966.3 991.3,973.3 1003.5,980 1015.6,986.7 1027.8,997.7 1040,1011 1052.2,995.3 1064.3,1005.3 1076.5,995.7 1088.7,985.3 1100.8,992 1113,985.3 1125.2,992 1137.3,1002 1149.5,994.3 1161.7,996.7 1173.9,1011"/>
<g fill="#0000ff"><circle cx="674.8" cy="942.7" r="2.65"/><circle cx="687" cy="942.3" r="2.65"/><circle cx="699.2" cy="935" r="2.65"/><circle cx="711.4" cy="928.3" r="2.65"/><circle cx="723.5" cy="942.3" r="2.65"/><circle cx="735.7" cy="947" r="2.65"/><circle cx="747.9" cy="953.3" r="2.65"/><circle cx="760" cy="926" r="2.65"/><circle cx="772.2" cy="911.7" r="2.65"/><circle cx="784.4" cy="929.3" r="2.65"/><circle cx="796.6" cy="949.3" r="2.65"/><circle cx="808.7" cy="929.3" r="2.65"/><circle cx="820.9" cy="885.3" r="2.65"/><circle cx="833.1" cy="878.7" r="2.65"/><circle cx="845.2" cy="895.3" r="2.65"/><circle cx="857.4" cy="910.7" r="2.65"/><circle cx="869.6" cy="902.7" r="2.65"/><circle cx="881.8" cy="926" r="2.65"/><circle cx="893.9" cy="959" r="2.65"/><circle cx="906.1" cy="976.3" r="2.65"/><circle cx="918.3" cy="969.7" r="2.65"/><circle cx="930.4" cy="983.3" r="2.65"/><circle cx="942.6" cy="983.3" r="2.65"/><circle cx="954.8" cy="984.7" r="2.65"/><circle cx="967" cy="974.3" r="2.65"/><circle cx="979.1" cy="966.3" r="2.65"/><circle cx="991.3" cy="973.3" r="2.65"/><circle cx="1003.5" cy="980" r="2.65"/><circle cx="1015.6" cy="986.7" r="2.65"/><circle cx="1027.8" cy="997.7" r="2.65"/><circle cx="1040" cy="1011" r="2.65"/><circle cx="1052.2" cy="995.3" r="2.65"/><circle cx="1064.3" cy="1005.3" r="2.65"/><circle cx="1076.5" cy="995.7" r="2.65"/><circle cx="1088.7" cy="985.3" r="2.65"/><circle cx="1100.8" cy="992" r="2.65"/><circle cx="1113" cy="985.3" r="2.65"/><circle cx="1125.2" cy="992" r="2.65"/><circle cx="1137.3" cy="1002" r="2.65"/><circle cx="1149.5" cy="994.3" r="2.65"/><circle cx="1161.7" cy="996.7" r="2.65"/><circle cx="1173.9" cy="1011" r="2.65"/></g>
<line x1="808.3" x2="808.3" y1="607.4" y2="1106" stroke="#d62728" stroke-opacity="0.85" stroke-width="2.8"/>
<line x1="1003.1" x2="1003.1" y1="607.4" y2="1106" stroke="#d62728" stroke-opacity="0.85" stroke-width="2.8"/>
</g>
<rect x="674.9" y="607.4" width="498.5" height="498.6" fill="none" stroke="#000" stroke-width="1.25"/>
<path d="M674.9 607.4h-5.3M674.9 707.1h-5.3M674.9 806.8h-5.3M674.9 906.5h-5.3M674.9 1006.3h-5.3M674.9 1106h-5.3M674.9 1106v5.3M808.3 1106v5.3M954.4 1106v5.3M1100.4 1106v5.3M1173.5 1106v5.3" stroke="#000" stroke-width="1.1" fill="none"/>
<text class="t" x="663.5" y="614.8" text-anchor="end">0.28</text>
<text class="t" x="663.5" y="714.5" text-anchor="end">0.25</text>
<text class="t" x="663.5" y="814.2" text-anchor="end">0.22</text>
<text class="t" x="663.5" y="913.9" text-anchor="end">0.19</text>
<text class="t" x="663.5" y="1013.7" text-anchor="end">0.16</text>
<text class="t" x="663.5" y="1113.4" text-anchor="end">0.13</text>
<text class="t" x="674.9" y="1131.8" text-anchor="middle">-24(h)</text>
<text class="t" x="808.3" y="1131.8" text-anchor="middle">0(h)</text>
<text class="t" x="954.4" y="1131.8" text-anchor="middle">24(h)</text>
<text class="t" x="1100.4" y="1131.8" text-anchor="middle">48(h)</text>
<text class="t" x="1173.5" y="1131.8" text-anchor="middle">60(h)</text>
<text x="936.7" y="1159" text-anchor="middle">Hours Relative to Onset (h)</text>
<text class="y" transform="translate(615 857.9) rotate(-90)" text-anchor="middle">Si/O</text>
<rect x="897.2" y="618.4" width="265.3" height="35.8" rx="3.5" ry="3.5" fill="#fff" fill-opacity="0.8" stroke="#ccc" stroke-opacity="0.8" stroke-width="1.1"/>
<line x1="904.6" x2="948.5" y1="634.2" y2="634.2" stroke="#ff0000" stroke-opacity="0.9" stroke-width="2.05"/><circle cx="926.7" cy="634.2" r="2.65" fill="#ff0000"/>
<text class="t" x="966" y="641">ICME</text>
<line x1="1060.7" x2="1104.6" y1="634.2" y2="634.2" stroke="#0000ff" stroke-opacity="0.9" stroke-width="2.05"/><circle cx="1082.8" cy="634.2" r="2.65" fill="#0000ff"/>
<text class="t" x="1120.7" y="641">SIR</text>
</g>
<g>
<clipPath id="c6"><rect x="1273.4" y="607.4" width="499.1" height="498.6"/></clipPath>
<g clip-path="url(#c6)">
<polygon fill="#ff0000" fill-opacity="0.4" points="1273.1,876.7 1285.3,909.3 1297.5,858.3 1309.6,849.3 1321.8,837.3 1334,851.7 1346.2,825 1358.4,863.3 1370.6,890 1382.8,891.7 1395,896.7 1407.2,828.3 1419.3,668.3 1431.5,626.7 1443.7,590 1455.9,645 1468.1,666 1480.3,665 1492.5,690 1504.7,668.3 1516.9,654 1529.1,698.3 1541.2,655 1553.4,605 1565.6,645 1577.8,672.7 1590,730 1602.2,818.3 1614.4,861.7 1626.6,791.7 1638.8,870 1651,841.7 1663.1,855 1675.3,825 1687.5,798.3 1699.7,786.7 1711.9,806.7 1724.1,842.3 1736.3,816 1748.5,845 1760.7,843.3 1772.9,832.7 1772.9,861.7 1760.7,873.3 1748.5,873.3 1736.3,846.7 1724.1,871.7 1711.9,836.7 1699.7,818.3 1687.5,828.3 1675.3,853.3 1663.1,885 1651,871.7 1638.8,896.7 1626.6,820 1614.4,886 1602.2,846.7 1590,770 1577.8,721.7 1565.6,701.7 1553.4,666 1541.2,718.3 1529.1,768.3 1516.9,723.3 1504.7,729.3 1492.5,752.7 1480.3,732.7 1468.1,733.3 1455.9,715 1443.7,648.3 1431.5,686.7 1419.3,723.3 1407.2,851.7 1395,916 1382.8,913.3 1370.6,911.7 1358.4,890 1346.2,853.3 1334,878.3 1321.8,865 1309.6,876.7 1297.5,888.3 1285.3,933.3 1273.1,898.3"/>
<polygon fill="#0000ff" fill-opacity="0.4" points="1273.1,903.3 1285.3,881.7 1297.5,883.3 1309.6,863.3 1321.8,856.7 1334,871.7 1346.2,865 1358.4,861.7 1370.6,830 1382.8,838.3 1395,875 1407.2,865 1419.3,828.3 1431.5,825 1443.7,825 1455.9,833.3 1468.1,861.7 1480.3,908.3 1492.5,946.7 1504.7,960 1516.9,948.3 1529.1,975.3 1541.2,984.3 1553.4,972 1565.6,972.7 1577.8,971 1590,974.3 1602.2,1007.7 1614.4,1009.3 1626.6,1006 1638.8,1037.7 1651,1016 1663.1,1031 1675.3,1024.3 1687.5,1015.3 1699.7,1017.7 1711.9,1019.3 1724.1,1021 1736.3,1021 1748.5,1024.3 1760.7,1037.7 1772.9,1049.3 1772.9,1071 1760.7,1056 1748.5,1042 1736.3,1039.3 1724.1,1038.7 1711.9,1037.7 1699.7,1036 1687.5,1032.7 1675.3,1042 1663.1,1049.3 1651,1036 1638.8,1056 1626.6,1026.7 1614.4,1031 1602.2,1029.3 1590,1009.3 1577.8,1007.7 1565.6,1006.7 1553.4,1001 1541.2,1009.3 1529.1,1001 1516.9,973.3 1504.7,986.7 1492.5,971.7 1480.3,935 1468.1,888.3 1455.9,859.3 1443.7,852.7 1431.5,853.3 1419.3,856.7 1407.2,895 1395,905 1382.8,873.3 1370.6,860.7 1358.4,893.3 1346.2,895 1334,902.7 1321.8,888.3 1309.6,895 1297.5,921.7 1285.3,915 1273.1,931.7"/>
<line x1="1553.3" x2="1553.3" y1="607.4" y2="1106" stroke="#bbbbbb" stroke-width="1.1"/>
<line x1="1699.3" x2="1699.3" y1="607.4" y2="1106" stroke="#bbbbbb" stroke-width="1.1"/>
<polyline fill="none" stroke="#ff0000" stroke-opacity="0.9" stroke-width="2.5" stroke-linejoin="round" points="1273.1,887.7 1285.3,920.7 1297.5,874 1309.6,863 1321.8,851.7 1334,865 1346.2,838.7 1358.4,877.3 1370.6,901 1382.8,902.7 1395,906.3 1407.2,839.7 1419.3,698.3 1431.5,655.3 1443.7,617.3 1455.9,682.3 1468.1,700 1480.3,699 1492.5,722.3 1504.7,699 1516.9,689.3 1529.1,735.7 1541.2,688.3 1553.4,633.3 1565.6,671.3 1577.8,697.3 1590,750 1602.2,833.3 1614.4,873.7 1626.6,806.7 1638.8,883.7 1651,856.3 1663.1,869.3 1675.3,838.7 1687.5,813.3 1699.7,802.3 1711.9,821.3 1724.1,857.3 1736.3,832 1748.5,859.7 1760.7,858.7 1772.9,846.3"/>
<g fill="#ff0000"><circle cx="1273.1" cy="887.7" r="2.65"/><circle cx="1285.3" cy="920.7" r="2.65"/><circle cx="1297.5" cy="874" r="2.65"/><circle cx="1309.6" cy="863" r="2.65"/><circle cx="1321.8" cy="851.7" r="2.65"/><circle cx="1334" cy="865" r="2.65"/><circle cx="1346.2" cy="838.7" r="2.65"/><circle cx="1358.4" cy="877.3" r="2.65"/><circle cx="1370.6" cy="901" r="2.65"/><circle cx="1382.8" cy="902.7" r="2.65"/><circle cx="1395" cy="906.3" r="2.65"/><circle cx="1407.2" cy="839.7" r="2.65"/><circle cx="1419.3" cy="698.3" r="2.65"/><circle cx="1431.5" cy="655.3" r="2.65"/><circle cx="1443.7" cy="617.3" r="2.65"/><circle cx="1455.9" cy="682.3" r="2.65"/><circle cx="1468.1" cy="700" r="2.65"/><circle cx="1480.3" cy="699" r="2.65"/><circle cx="1492.5" cy="722.3" r="2.65"/><circle cx="1504.7" cy="699" r="2.65"/><circle cx="1516.9" cy="689.3" r="2.65"/><circle cx="1529.1" cy="735.7" r="2.65"/><circle cx="1541.2" cy="688.3" r="2.65"/><circle cx="1553.4" cy="633.3" r="2.65"/><circle cx="1565.6" cy="671.3" r="2.65"/><circle cx="1577.8" cy="697.3" r="2.65"/><circle cx="1590" cy="750" r="2.65"/><circle cx="1602.2" cy="833.3" r="2.65"/><circle cx="1614.4" cy="873.7" r="2.65"/><circle cx="1626.6" cy="806.7" r="2.65"/><circle cx="1638.8" cy="883.7" r="2.65"/><circle cx="1651" cy="856.3" r="2.65"/><circle cx="1663.1" cy="869.3" r="2.65"/><circle cx="1675.3" cy="838.7" r="2.65"/><circle cx="1687.5" cy="813.3" r="2.65"/><circle cx="1699.7" cy="802.3" r="2.65"/><circle cx="1711.9" cy="821.3" r="2.65"/><circle cx="1724.1" cy="857.3" r="2.65"/><circle cx="1736.3" cy="832" r="2.65"/><circle cx="1748.5" cy="859.7" r="2.65"/><circle cx="1760.7" cy="858.7" r="2.65"/><circle cx="1772.9" cy="846.3" r="2.65"/></g>
<polyline fill="none" stroke="#0000ff" stroke-opacity="0.9" stroke-width="2.5" stroke-linejoin="round" points="1273.1,919.3 1285.3,898.7 1297.5,903.3 1309.6,879.3 1321.8,872.3 1334,887.7 1346.2,880.3 1358.4,878.3 1370.6,846 1382.8,856.7 1395,891 1407.2,879.7 1419.3,843.7 1431.5,839.7 1443.7,838.7 1455.9,846.3 1468.1,874.7 1480.3,921.7 1492.5,959 1504.7,973.3 1516.9,960 1529.1,988.3 1541.2,997.3 1553.4,986.7 1565.6,990.3 1577.8,989 1590,991.7 1602.2,1018.3 1614.4,1020.7 1626.6,1016 1638.8,1047 1651,1026 1663.1,1040.3 1675.3,1032.7 1687.5,1024 1699.7,1027 1711.9,1028.3 1724.1,1029.7 1736.3,1029.7 1748.5,1032.7 1760.7,1046 1772.9,1059.3"/>
<g fill="#0000ff"><circle cx="1273.1" cy="919.3" r="2.65"/><circle cx="1285.3" cy="898.7" r="2.65"/><circle cx="1297.5" cy="903.3" r="2.65"/><circle cx="1309.6" cy="879.3" r="2.65"/><circle cx="1321.8" cy="872.3" r="2.65"/><circle cx="1334" cy="887.7" r="2.65"/><circle cx="1346.2" cy="880.3" r="2.65"/><circle cx="1358.4" cy="878.3" r="2.65"/><circle cx="1370.6" cy="846" r="2.65"/><circle cx="1382.8" cy="856.7" r="2.65"/><circle cx="1395" cy="891" r="2.65"/><circle cx="1407.2" cy="879.7" r="2.65"/><circle cx="1419.3" cy="843.7" r="2.65"/><circle cx="1431.5" cy="839.7" r="2.65"/><circle cx="1443.7" cy="838.7" r="2.65"/><circle cx="1455.9" cy="846.3" r="2.65"/><circle cx="1468.1" cy="874.7" r="2.65"/><circle cx="1480.3" cy="921.7" r="2.65"/><circle cx="1492.5" cy="959" r="2.65"/><circle cx="1504.7" cy="973.3" r="2.65"/><circle cx="1516.9" cy="960" r="2.65"/><circle cx="1529.1" cy="988.3" r="2.65"/><circle cx="1541.2" cy="997.3" r="2.65"/><circle cx="1553.4" cy="986.7" r="2.65"/><circle cx="1565.6" cy="990.3" r="2.65"/><circle cx="1577.8" cy="989" r="2.65"/><circle cx="1590" cy="991.7" r="2.65"/><circle cx="1602.2" cy="1018.3" r="2.65"/><circle cx="1614.4" cy="1020.7" r="2.65"/><circle cx="1626.6" cy="1016" r="2.65"/><circle cx="1638.8" cy="1047" r="2.65"/><circle cx="1651" cy="1026" r="2.65"/><circle cx="1663.1" cy="1040.3" r="2.65"/><circle cx="1675.3" cy="1032.7" r="2.65"/><circle cx="1687.5" cy="1024" r="2.65"/><circle cx="1699.7" cy="1027" r="2.65"/><circle cx="1711.9" cy="1028.3" r="2.65"/><circle cx="1724.1" cy="1029.7" r="2.65"/><circle cx="1736.3" cy="1029.7" r="2.65"/><circle cx="1748.5" cy="1032.7" r="2.65"/><circle cx="1760.7" cy="1046" r="2.65"/><circle cx="1772.9" cy="1059.3" r="2.65"/></g>
<line x1="1406.8" x2="1406.8" y1="607.4" y2="1106" stroke="#d62728" stroke-opacity="0.85" stroke-width="2.8"/>
<line x1="1601.8" x2="1601.8" y1="607.4" y2="1106" stroke="#d62728" stroke-opacity="0.85" stroke-width="2.8"/>
</g>
<rect x="1273.4" y="607.4" width="499.1" height="498.6" fill="none" stroke="#000" stroke-width="1.25"/>
<path d="M1273.4 607.4h-5.3M1273.4 707.1h-5.3M1273.4 806.8h-5.3M1273.4 906.5h-5.3M1273.4 1006.3h-5.3M1273.4 1106h-5.3M1273.4 1106v5.3M1406.8 1106v5.3M1553 1106v5.3M1699.3 1106v5.3M1772.5 1106v5.3" stroke="#000" stroke-width="1.1" fill="none"/>
<text class="t" x="1262" y="614.8" text-anchor="end">0.30</text>
<text class="t" x="1262" y="714.5" text-anchor="end">0.26</text>
<text class="t" x="1262" y="814.2" text-anchor="end">0.22</text>
<text class="t" x="1262" y="913.9" text-anchor="end">0.18</text>
<text class="t" x="1262" y="1013.7" text-anchor="end">0.14</text>
<text class="t" x="1262" y="1113.4" text-anchor="end">0.10</text>
<text class="t" x="1273.4" y="1131.8" text-anchor="middle">-24(h)</text>
<text class="t" x="1406.8" y="1131.8" text-anchor="middle">0(h)</text>
<text class="t" x="1553" y="1131.8" text-anchor="middle">24(h)</text>
<text class="t" x="1699.3" y="1131.8" text-anchor="middle">48(h)</text>
<text class="t" x="1772.5" y="1131.8" text-anchor="middle">60(h)</text>
<text x="1522.5" y="1159" text-anchor="middle">Hours Relative to Onset (h)</text>
<text class="y" transform="translate(1213 857.9) rotate(-90)" text-anchor="middle">Fe/O</text>
<rect x="1496.2" y="618.4" width="265.3" height="35.8" rx="3.5" ry="3.5" fill="#fff" fill-opacity="0.8" stroke="#ccc" stroke-opacity="0.8" stroke-width="1.1"/>
<line x1="1503.6" x2="1547.5" y1="634.2" y2="634.2" stroke="#ff0000" stroke-opacity="0.9" stroke-width="2.5"/><circle cx="1525.7" cy="634.2" r="2.65" fill="#ff0000"/>
<text class="t" x="1565" y="641">ICME</text>
<line x1="1659.7" x2="1703.6" y1="634.2" y2="634.2" stroke="#0000ff" stroke-opacity="0.9" stroke-width="2.5"/><circle cx="1681.8" cy="634.2" r="2.65" fill="#0000ff"/>
<text class="t" x="1719.7" y="641">SIR</text>
</g>
</svg>
</body></html>
